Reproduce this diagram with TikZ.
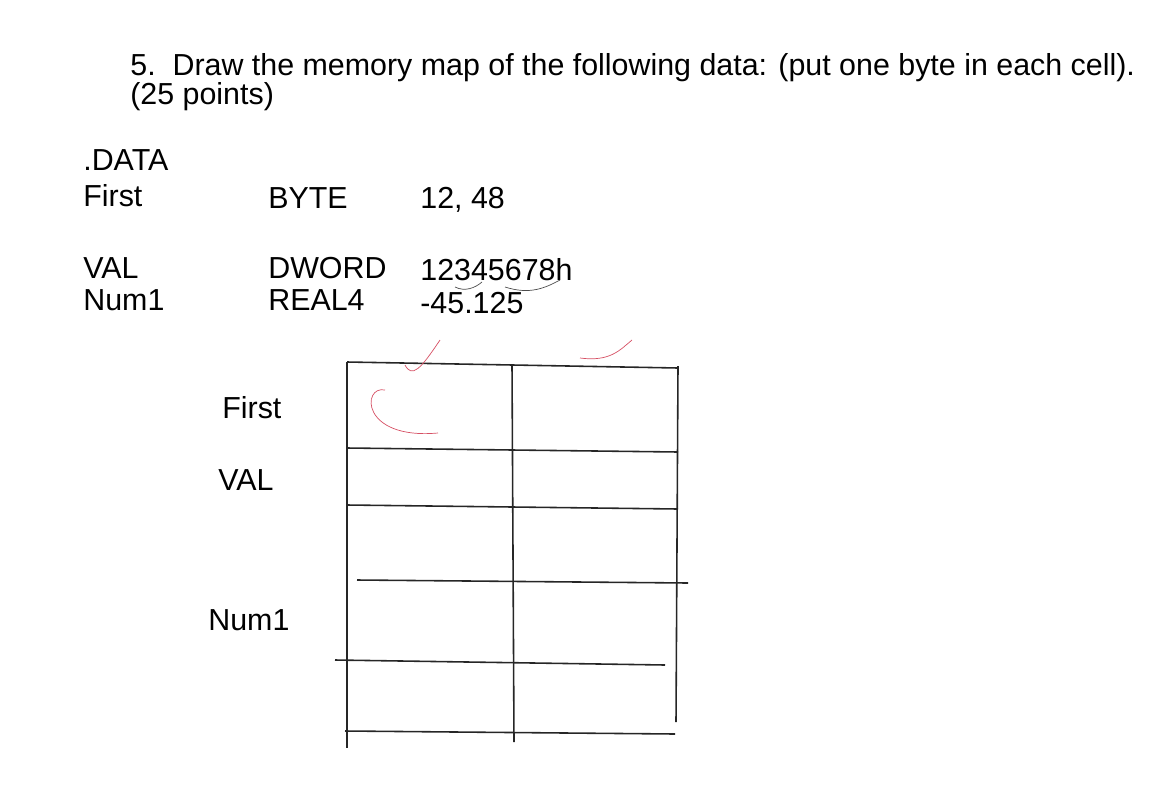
\documentclass[tikz,border=0pt]{standalone}
\usepackage{fontspec}
\setmainfont{Liberation Sans}
\definecolor{markred}{RGB}{214,80,100}

\begin{document}
\begin{tikzpicture}[x=0.02cm,y=-0.02cm,
	txt/.style={anchor=west,inner sep=0pt,font=\fontsize{17.3}{20}\selectfont},
	grid/.style={line width=0.9pt,black!85}]
	\useasboundingbox (0,0) rectangle (1156,788);

	% question
	\node[txt] (Q1) at (130,68) {5.\ \ Draw the memory map of the following data: (put one byte in each cell).};
	\node[txt] (Q2) at (130,97) {(25 points)};

	% data section
	\node[txt] (Data) at (83,160) {.DATA};
	\node[txt] (FirstName) at (83,196) {First};
	\node[txt] (FirstType) at (268,198) {BYTE};
	\node[txt] (FirstVal) at (420,200) {12, 48};
	\node[txt] (ValName) at (83,268) {VAL};
	\node[txt] (ValType) at (268,268) {DWORD};
	\node[txt] (ValVal) at (420,270) {12345678h};
	\node[txt] (NumName) at (83,300) {Num1};
	\node[txt] (NumType) at (268,300) {REAL4};
	\node[txt] (NumVal) at (420,303) {-45.125};

	% memory map labels
	\node[txt] (FirstLbl) at (222,408) {First};
	\node[txt] (ValLbl) at (218,480) {VAL};
	\node[txt] (NumLbl) at (208,620) {Num1};

	% memory map grid
	\draw[grid] (347,362) -- (347,748);
	\draw[grid] (512,365) -- (514,742);
	\draw[grid] (678,366) -- (676,722);
	\draw[grid] (347,362) -- (678,368);
	\draw[grid] (347,448) -- (678,452);
	\draw[grid] (347,505) -- (678,509);
	\draw[grid] (357,580) -- (688,583);
	\draw[grid] (335,660) -- (665,665);
	\draw[grid] (345,731) -- (675,734);

	% handwritten marks
	\draw[markred,thin] (438,433) .. controls (360,440) and (362,385) .. (385,390);
	\draw[markred,thin] (405,365) .. controls (412,378) and (420,370) .. (440,340);
	\draw[markred,thin] (580,358) .. controls (610,362) and (620,350) .. (632,340);
	\draw[black!70,thin] (455,287) .. controls (465,292) and (475,288) .. (482,282);
	\draw[black!70,thin] (505,287) .. controls (530,295) and (545,288) .. (560,280);
\end{tikzpicture}
\end{document}
